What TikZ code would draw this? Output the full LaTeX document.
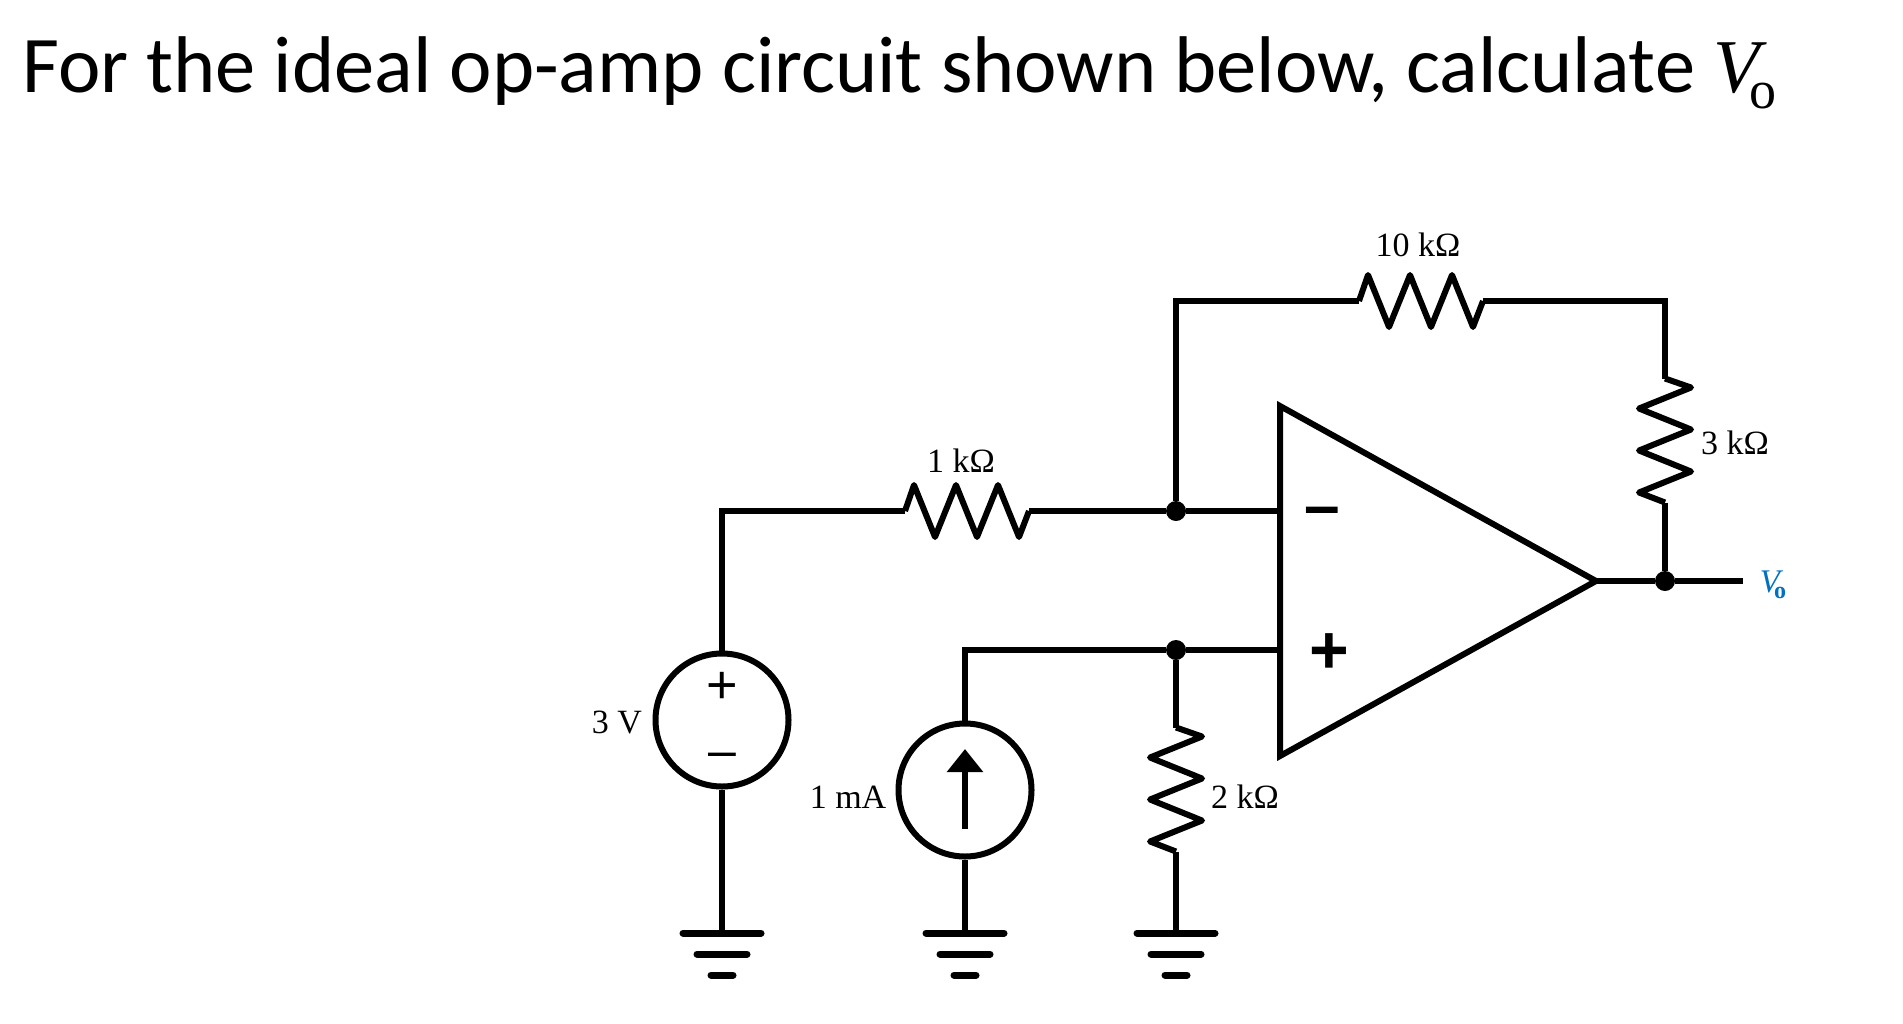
\documentclass[tikz,border=0pt]{standalone}
\usepackage{fontspec}
\setmainfont{Carlito}
\newfontfamily\labelfont{Liberation Serif}
\newfontfamily\signfont{Liberation Sans}
\usetikzlibrary{arrows.meta,positioning,shapes.geometric}
\definecolor{outblue}{RGB}{0,112,192}

\tikzset{
  wire/.style={line width=6pt},
  source/.style={circle,draw,line width=6pt,minimum size=133pt,inner sep=0pt},
  junction/.style={circle,fill=black,minimum size=20pt,inner sep=0pt},
  value/.style={inner sep=0pt,font=\labelfont\fontsize{34}{34}\selectfont},
  sign/.style={inner sep=0pt,font=\signfont\fontsize{#1}{#1}\selectfont},
  boldsign/.style={inner sep=0pt,font=\signfont\bfseries\fontsize{#1}{#1}\selectfont},
  resistor/.pic={
    \coordinate (-a) at (-62pt,0pt);
    \coordinate (-b) at (62pt,0pt);
    \draw[wire,line join=round] (-a) -- (-53pt,26pt) -- (-32pt,-26pt) -- (-11pt,26pt)
      -- (10pt,-26pt) -- (31pt,26pt) -- (52pt,-26pt) -- (-b);
  },
  ground/.pic={
    \coordinate (-t) at (0pt,0pt);
    \draw[line width=7pt,line cap=round] (-39pt,0pt) -- (39pt,0pt);
    \draw[line width=7pt,line cap=round] (-25pt,-21pt) -- (25pt,-21pt);
    \draw[line width=7pt,line cap=round] (-11pt,-42pt) -- (11pt,-42pt);
  }
}

\begin{document}
\begin{tikzpicture}[x=1pt,y=-1pt,on grid]
  \useasboundingbox (0,0) rectangle (1903,1023);

  \node[anchor=base west,inner sep=0pt,font=\fontsize{80.4}{80}\selectfont] (title) at (22,92)
    {For the ideal op-amp circuit shown below, calculate {\labelfont\itshape\fontsize{76}{76}\selectfont V}\kern-11pt\raisebox{-16pt}{\labelfont\fontsize{54}{54}\selectfont o}};

  \node[source]   (VS)                          at (722,720) {};
  \node[source]   (IS)   [below right=70pt and 243pt of VS]  {};
  \node[junction] (dotP)                        at (1176,650) {};
  \node[junction] (dotN) [above=139pt of dotP]               {};
  \node[junction] (dotO) [right=489pt of dotN,yshift=-70pt]  {};
  \node[isosceles triangle,isosceles triangle stretches,draw,line width=6pt,inner sep=0pt,outer sep=0pt,
        minimum width=350pt,minimum height=316pt,anchor=apex] (opamp) at (1596,581) {};

  \coordinate (inN) at (opamp.west |- dotN);
  \coordinate (inP) at (opamp.west |- dotP);
  \coordinate[right=78pt of dotO] (out);

  \pic (R1)  at (967,511)    {resistor};
  \pic (R10) at (1421,301)   {resistor};
  \pic[rotate=-90] (R3) at (1665,440.5) {resistor};
  \pic[rotate=-90] (R2) at (1176,789.5) {resistor};
  \pic (G1) at (722,933)  {ground};
  \pic (G2) at (965,933)  {ground};
  \pic (G3) at (1176,933) {ground};

  \draw[wire] (VS) |- (R1-a);
  \draw[wire] (R1-b) -- (dotN);
  \draw[wire] (dotN) -- (inN);
  \draw[wire] (dotN) |- (R10-a);
  \draw[wire] (R10-b) -| (R3-a);
  \draw[wire] (R3-b) -- (dotO);
  \draw[wire] (opamp.apex) -- (dotO);
  \draw[wire] (dotO) -- (out);
  \draw[wire] (IS) |- (dotP);
  \draw[wire] (dotP) -- (inP);
  \draw[wire] (dotP) -- (R2-a);
  \draw[wire] (R2-b) -- (G3-t);
  \draw[wire] (VS) -- (G1-t);
  \draw[wire] (IS) -- (G2-t);

  \draw[wire,-{Triangle[width=35pt,length=23pt]}] ([yshift=-39pt]IS.center) -- ([yshift=41pt]IS.center);

  \node[sign=54] (VSp) [above=32pt of VS]   {+};
  \node[sign=50] (VSm) [below=40pt of VS]   {–};
  \node[boldsign=68] (opP) at (1329,654)    {+};
  \node[boldsign=64] (opN) at (1322,517)    {–};

  \node[value] (lR1)  at (961,461)   {1 kΩ};
  \node[value] (lR10) at (1418,245)  {10 kΩ};
  \node[value] (lR3)  at (1735,443)  {3 kΩ};
  \node[value] (lR2)  at (1245,797)  {2 kΩ};
  \node[value] (lVS)  at (617,722)   {3 V};
  \node[value] (lIS)  at (848,797)   {1 mA};
  \node[inner sep=0pt,text=outblue,font=\labelfont] (lVo) at (1773,585)
    {{\itshape\fontsize{33}{33}\selectfont V}\kern-6pt\raisebox{-6pt}{\bfseries\fontsize{24}{24}\selectfont o}};
\end{tikzpicture}
\end{document}
